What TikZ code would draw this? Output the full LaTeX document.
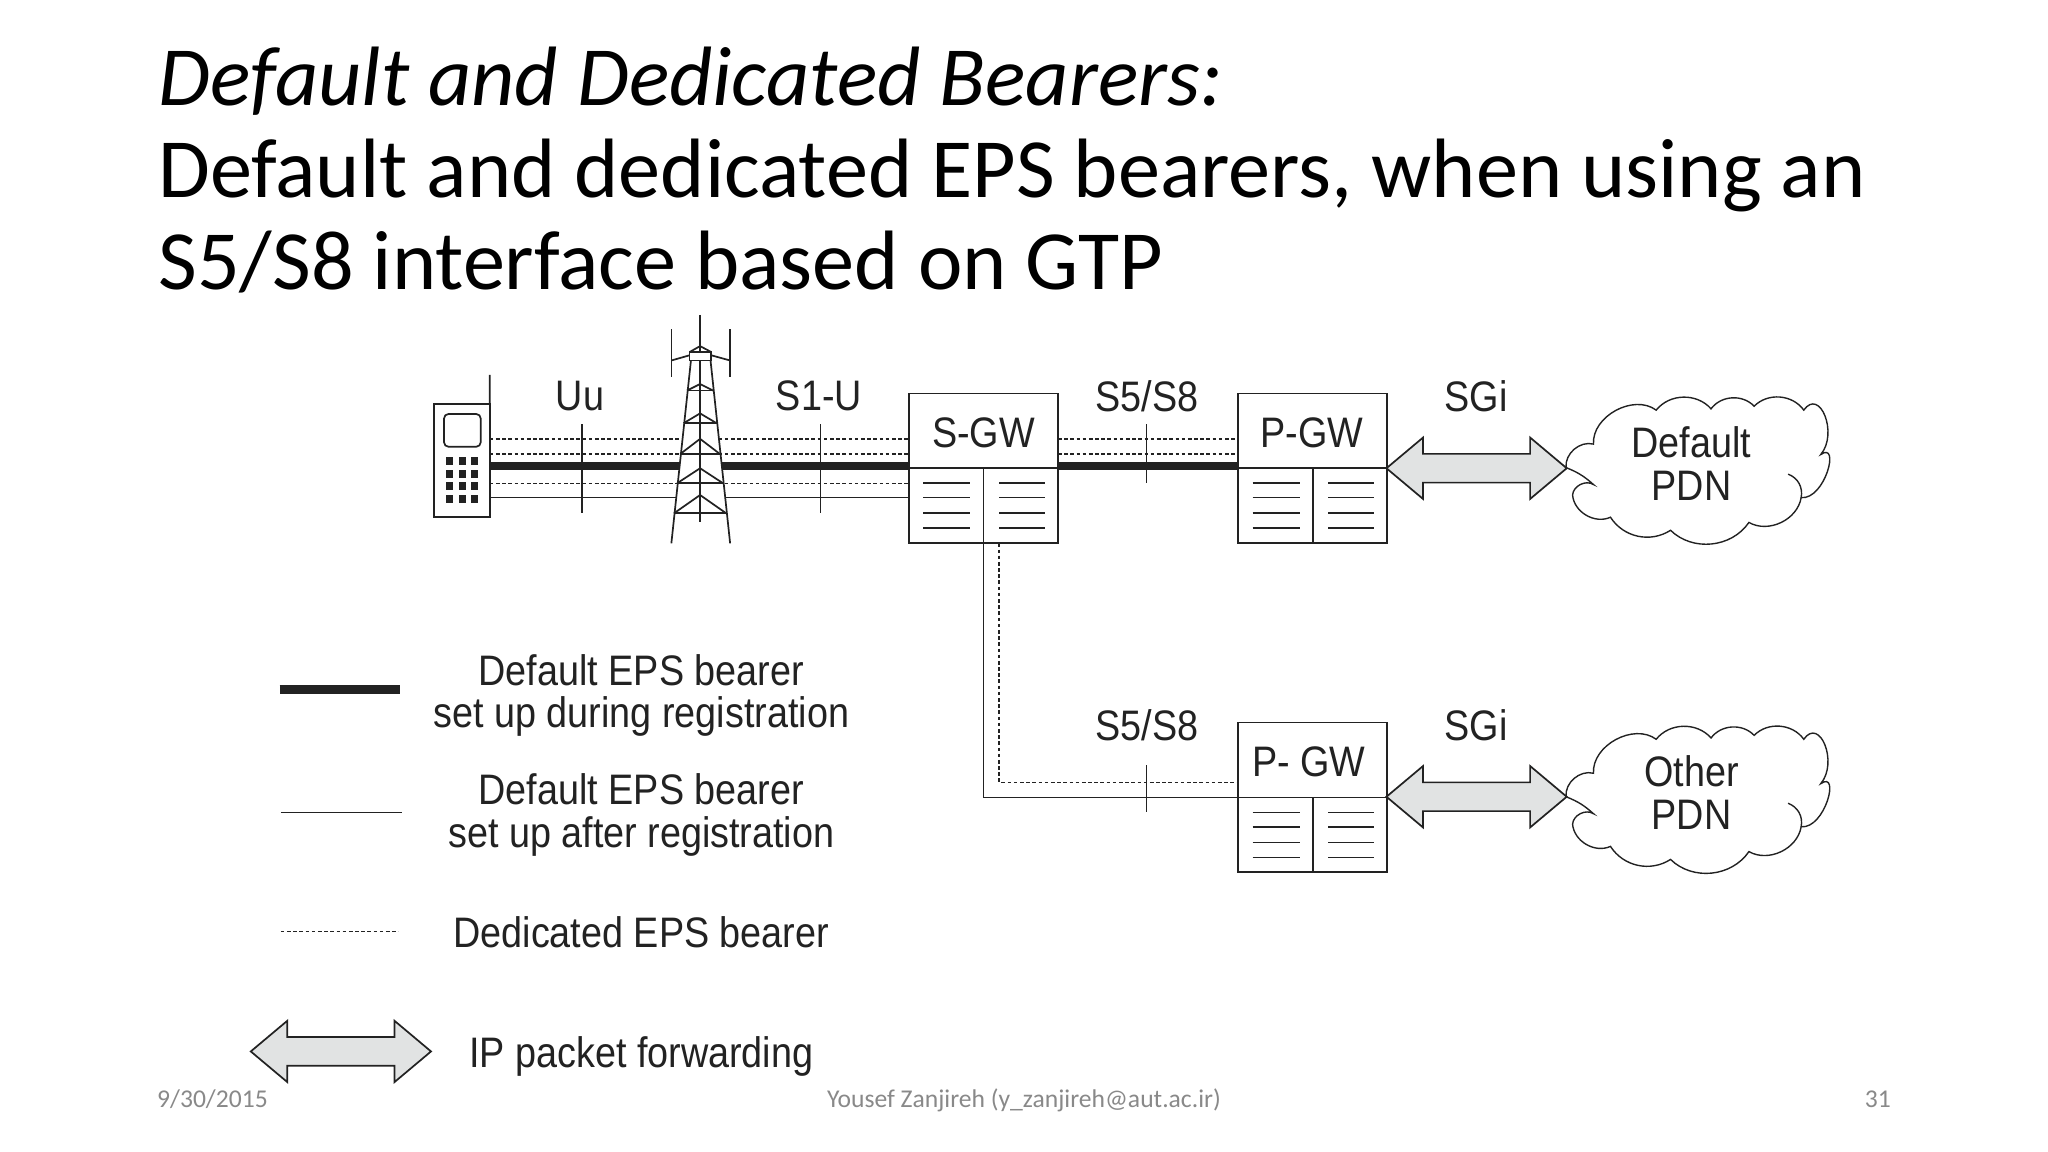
\documentclass[tikz,border=0pt]{standalone}
\usepackage{fontspec}
\setmainfont{Carlito}
\newfontfamily\labelfont[FakeStretch=0.885]{Liberation Sans}

\definecolor{footergray}{HTML}{898989}
\definecolor{arrowgray}{HTML}{E1E3E3}
\definecolor{inkblack}{HTML}{222222}

\tikzset{
	lbl/.style={font=\labelfont\fontsize{20}{20}\selectfont, text=inkblack, inner sep=0pt, align=center},
	gwbox/.style={draw=inkblack, line width=0.8pt, fill=white, minimum width=69.8pt, minimum height=70.2pt, inner sep=0pt, outer sep=0pt},
	ipfwd/.style={draw=inkblack, line width=0.8pt, fill=arrowgray},
	bearerthick/.style={draw=inkblack, line width=3.8pt},
	bearerthin/.style={draw=inkblack, line width=0.8pt},
	bearerdot/.style={draw=inkblack, line width=0.7pt, dash pattern=on 1.7pt off 1.2pt},
	tick/.style={draw=inkblack, line width=0.6pt},
	cloudline/.style={draw=inkblack, line width=0.65pt},
	foot/.style={font=\fontsize{12}{12}\selectfont, text=footergray, inner sep=0pt}
}

% gateway box with its two cells
\newcommand{\gateway}[4]{
	\node[gwbox] (#1) at (#2) {};
	\node[lbl] (#1label) at (#3) {#4};
	\draw[bearerthin] (#1.west) -- (#1.east);
	\draw[bearerthin] (#1.center) -- (#1.south);
	\begin{scope}[shift={(#1.center)}]
		\foreach \dy in {11.5,22.5,34.5,46} {
			\draw[bearerthin] (-46,\dy) -- (-10,\dy);
			\draw[bearerthin] (12,\dy) -- (47,\dy);
		}
	\end{scope}
}

% cloud, drawn for the upper position
\newcommand{\pdncloud}[1]{
	\begin{scope}[shift={(0,#1)}]
		\draw[cloudline, fill=white] (1199,358)
			to[bend left=55] (1220,340)
			to[bend left=65] (1268,314)
			to[bend left=50] (1310,313)
			to[bend left=50] (1343,311)
			to[bend left=50] (1381,314)
			to[out=55, in=50, looseness=1.5] (1394,348)
			to[out=35, in=-5, looseness=1.3] (1379,381)
			to[bend left=55] (1339,400)
			to[bend left=50] (1279,406)
			to[bend left=45] (1233,396)
			to[bend left=55] (1204,379)
			to[bend left=60] (1220,371)
			to[bend right=10] (1199,358);
		\draw[cloudline] (1379,381) to[bend right=40] (1369,363);
	\end{scope}
}

% packet forwarding arrow, by its centre
\newcommand{\fwdarrow}[1]{
	\begin{scope}[shift={(#1)}]
		\draw[ipfwd] (-69,0) -- (-41,-23.5) -- (-41,-11) -- (41,-11) -- (41,-23.5) -- (69,0)
			-- (41,23.5) -- (41,11) -- (-41,11) -- (-41,23.5) -- cycle;
	\end{scope}
}

\begin{document}
\begin{tikzpicture}[x=0.61224pt, y=-0.61224pt]

	% page
	\useasboundingbox (0,0) rectangle (1568,882);
	\fill[white] (0,0) rectangle (1568,882);

	% title
	\node[anchor=north west, inner sep=0pt, align=left, font=\fontsize{39.5}{43.1}\selectfont] (title) at (121,35.5) {\textit{Default and Dedicated Bearers:}\\Default and dedicated EPS bearers, when using an\\S5/S8 interface based on GTP};

	% gateways
	\gateway{sgw}{753,358.5}{753,331}{S-GW}
	\gateway{pgwa}{1005,358.5}{1004.5,331}{P-GW}
	\gateway{pgwb}{1005,610.5}{1002,583}{P- GW}

	% phone
	\node[draw=inkblack, line width=0.8pt, fill=white, minimum width=26.3pt, minimum height=53.2pt, inner sep=0pt, outer sep=0pt] (phone) at (353.5,352.5) {};
	\coordinate (aerial) at (375,287);
	\draw[bearerthin] (phone.north east) -- (aerial);
	\draw[bearerthin, rounded corners=2pt] (340,317) rectangle (368,342);
	\foreach \kx in {344,354,363} {
		\foreach \ky in {353,363,372,382} {
			\fill[inkblack] (\kx-2.7,\ky-3.2) rectangle (\kx+2.7,\ky+3.2);
		}
	}

	% bearers, S-GW side
	\draw[bearerdot] (phone.east |- 0,336) -- (sgw.west |- 0,336);
	\draw[bearerdot] (phone.east |- 0,347.5) -- (sgw.west |- 0,347.5);
	\draw[bearerthick] (phone.east |- 0,356.7) -- (sgw.west |- 0,356.7);
	\draw[bearerdot] (phone.east |- 0,370) -- (sgw.west |- 0,370);
	\draw[bearerthin] (phone.east |- 0,381) -- (sgw.west |- 0,381);

	% bearers, P-GW side
	\draw[bearerdot] (sgw.east |- 0,336) -- (pgwa.west |- 0,336);
	\draw[bearerdot] (sgw.east |- 0,347.5) -- (pgwa.west |- 0,347.5);
	\draw[bearerthick] (sgw.east |- 0,356.7) -- (pgwa.west |- 0,356.7);

	% bearers to the lower gateway
	\draw[bearerthin] (sgw.south) |- (pgwb.west);
	\draw[bearerdot] (765,416) |- (pgwb.west |- 0,599);

	% tower
	\fill[white] (529,276) -- (514,416) -- (559,416) -- (544,276) -- cycle;
	\draw[bearerthin] (529,276) -- (514,416);
	\draw[bearerthin] (544,276) -- (559,416);
	\draw[bearerthin] (536,241) -- (536,400);
	\draw[bearerthin, fill=white] (528,269.5) rectangle (544.5,276);
	\draw[bearerthin] (528,269.5) -- (536,265) -- (544.5,269.5);
	\draw[bearerthin] (514,252) -- (514,288.5);
	\draw[bearerthin] (559,252) -- (559,288.5);
	\draw[bearerthin] (528,272) -- (514,276);
	\draw[bearerthin] (544.5,272) -- (559,276);
	\foreach \ybar/\yapex/\half in {299/294/10, 324/316.5/12.6, 347.6/336/15.2, 370/358.5/17.6, 393/379/20} {
		\draw[bearerthin] (536-\half,\ybar) -- (536+\half,\ybar);
		\draw[bearerthin] (536-\half,\ybar) -- (536,\yapex) -- (536+\half,\ybar);
	}

	% interface ticks
	\draw[tick] (445.5,325) -- (445.5,393);
	\draw[tick] (628,325) -- (628,393);
	\draw[tick] (878,325) -- (878,370);
	\draw[tick] (878,586) -- (878,622);

	% interface names
	\node[lbl] (uu) at (444,303) {Uu};
	\node[lbl] (sonu) at (627,303) {S1-U};
	\node[lbl] (sfsa) at (878,303) {S5/S8};
	\node[lbl] (sgia) at (1130,303) {SGi};
	\node[lbl] (sfsb) at (878,555) {S5/S8};
	\node[lbl] (sgib) at (1130,555) {SGi};

	% clouds
	\pdncloud{0}
	\pdncloud{252}
	\node[lbl] (pdna) at (1295,355) {Default\\PDN};
	\node[lbl] (pdnb) at (1295,607) {Other\\PDN};

	% packet arrows
	\fwdarrow{1130.5,358.5}
	\fwdarrow{1130.5,610}

	% legend
	\coordinate (keyal) at (214,528);
	\coordinate (keyar) at (306,528);
	\coordinate (keybl) at (215,622);
	\coordinate (keybr) at (308,622);
	\coordinate (keycl) at (215,713);
	\coordinate (keycr) at (305,713);
	\draw[bearerthick, line width=4.3pt] (keyal) -- (keyar);
	\draw[bearerthin] (keybl) -- (keybr);
	\draw[bearerdot] (keycl) -- (keycr);
	\fwdarrow{261,805}
	\node[lbl] (keya) at (491,532.5) {Default EPS bearer\\set up during registration};
	\node[lbl] (keyb) at (491,624) {Default EPS bearer\\set up after registration};
	\node[lbl] (keyc) at (491,714) {Dedicated EPS bearer};
	\node[lbl] (keyd) at (491,808.5) {IP packet forwarding};

	% footer
	\node[foot, anchor=base west] (date) at (120,848) {9/30/2015};
	\node[foot, anchor=base] (owner) at (784,848) {Yousef Zanjireh (y\_zanjireh@aut.ac.ir)};
	\node[foot, anchor=base east] (page) at (1448,848) {31};

\end{tikzpicture}
\end{document}
